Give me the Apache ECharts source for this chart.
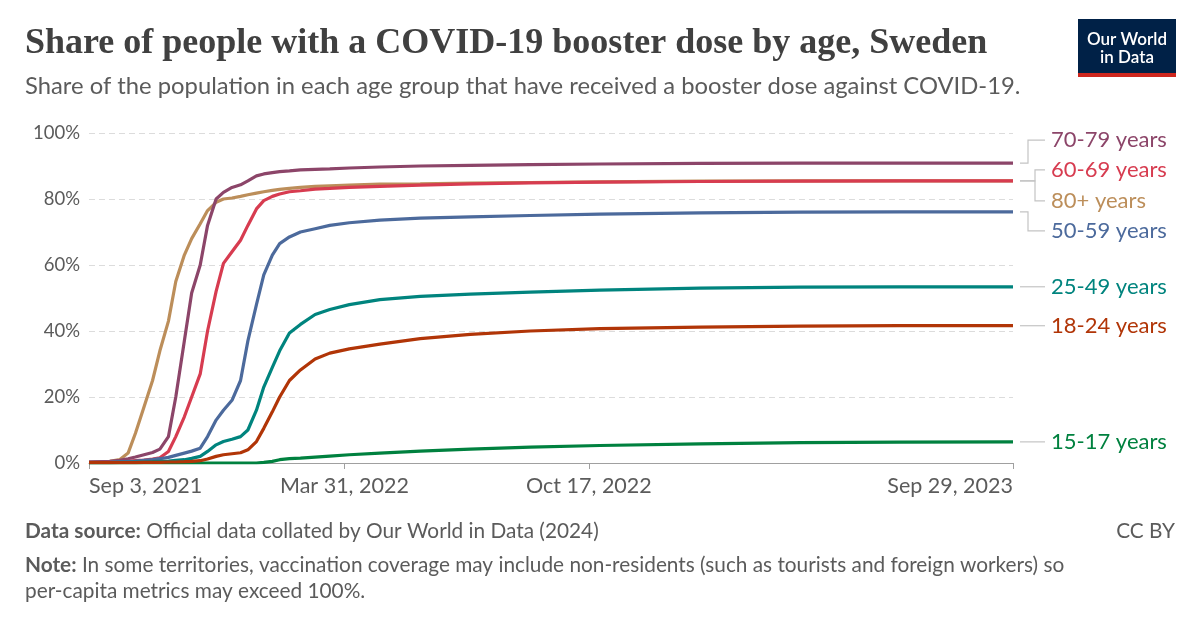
<!DOCTYPE html>
<html>
<head>
<meta charset="utf-8">
<script src="https://cdn.jsdelivr.net/npm/echarts@6/dist/echarts.min.js"></script>
<style>
html,body{margin:0;padding:0;background:#fff;}
#chart{width:1200px;height:627px;}
</style>
</head>
<body>
<div id="chart"></div>
<script>
// ---- Data ----
const dates = [
  '2021-09-03','2021-09-20','2021-09-28','2021-10-05','2021-10-11','2021-10-18','2021-10-25','2021-10-31',
  '2021-11-07','2021-11-13','2021-11-20','2021-11-26','2021-12-03','2021-12-09','2021-12-16','2021-12-22',
  '2021-12-29','2022-01-05','2022-01-11','2022-01-18','2022-01-24','2022-01-31','2022-02-06','2022-02-14',
  '2022-02-23','2022-03-07','2022-03-19','2022-04-04','2022-04-29','2022-06-01','2022-07-12','2022-08-30',
  '2022-10-26','2023-01-16','2023-04-08','2023-06-28','2023-09-29'
];
const age80plus = [0.3,0.5,1,3,9,17,25,34,43,55,63,68,72.5,76.5,79,80,80.3,80.8,81.3,81.8,82.2,82.6,82.9,83.2,83.5,83.8,84,84.2,84.5,84.6,84.8,85.0,85.2,85.4,85.5,85.5,85.5];
const age70_79  = [0.3,0.5,0.8,1.3,1.8,2.5,3.2,4.2,8,20,37,51.5,60,72,80,82,83.5,84.3,85.5,87,87.6,88,88.3,88.5,88.8,89,89.1,89.4,89.7,90,90.2,90.4,90.6,90.8,90.9,90.9,90.9];
const age60_69  = [0.2,0.3,0.4,0.5,0.7,0.9,1.2,1.6,3.5,8,14,20,27,40,52,60.5,64,67.5,72,77,79.5,80.8,81.5,82.2,82.5,83,83.2,83.5,83.8,84.2,84.6,84.9,85.1,85.3,85.4,85.5,85.5];
const age50_59  = [0.2,0.3,0.4,0.5,0.6,0.8,1,1.3,1.7,2.3,3,3.6,4.5,8,13,16,19,25,37,48,57,63,66.5,68.5,70,71,72,72.8,73.6,74.2,74.6,75,75.4,75.8,76,76.1,76.1];
const age25_49  = [0.1,0.1,0.2,0.2,0.3,0.3,0.4,0.5,0.6,0.8,1,1.4,2,3.5,5.5,6.5,7.2,8,10,16,23,29,34,39.4,42,45,46.5,48,49.5,50.5,51.2,51.8,52.4,53,53.3,53.4,53.4];
const age18_24  = [0.1,0.1,0.1,0.1,0.1,0.2,0.2,0.2,0.3,0.3,0.4,0.5,0.7,1.2,2,2.5,2.8,3.1,4,6.5,10.5,15.5,20,25,28.2,31.5,33.3,34.6,36,37.7,39,40,40.7,41.2,41.5,41.6,41.6];
const age15_17  = [0,0,0,0,0,0,0,0,0,0,0,0,0,0,0,0,0,0,0,0,0.2,0.5,1,1.3,1.5,1.8,2.1,2.5,3,3.6,4.2,4.8,5.3,5.8,6.2,6.3,6.4];
const xTickDates = ['2021-09-03','2022-03-31','2022-10-17','2023-09-29'];
const yTicks = [0,20,40,60,80,100];

const seriesDefs = [
  {name:'80+ years',   data:age80plus, color:'#BC8E5A', labelDy:20},
  {name:'70-79 years', data:age70_79,  color:'#8C4569', labelDy:-23},
  {name:'60-69 years', data:age60_69,  color:'#D73C50', labelDy:-11},
  {name:'50-59 years', data:age50_59,  color:'#4C6A9C', labelDy:19},
  {name:'25-49 years', data:age25_49,  color:'#00847E', labelDy:0},
  {name:'15-17 years', data:age15_17,  color:'#00813F', labelDy:0},
  {name:'18-24 years', data:age18_24,  color:'#B13507', labelDy:0}
];

const DAY = 86400000;
const t0 = Date.UTC(2021, 8, 3);
const dayOf = d => Math.round((new Date(d + 'T00:00:00Z').getTime() - t0) / DAY);
const MONTHS = ['Jan','Feb','Mar','Apr','May','Jun','Jul','Aug','Sep','Oct','Nov','Dec'];
const fmtDay = v => { const d = new Date(t0 + v * DAY); return MONTHS[d.getUTCMonth()] + ' ' + d.getUTCDate() + ', ' + d.getUTCFullYear(); };

const chart = echarts.init(document.getElementById('chart'), null, {renderer:'canvas'});
const FONT = 'Lato, "Noto Sans", sans-serif';
const xTicks = xTickDates.map(dayOf);

const option = {
  animation:false,
  backgroundColor:'#fff',
  grid:{left:89, right:187, top:133, bottom:164, containLabel:false},
  xAxis:{
    type:'value',
    min:dayOf(dates[0]), max:dayOf(dates[dates.length-1]),
    axisLine:{show:true, lineStyle:{color:'#a0a0a0', width:1}},
    axisTick:{show:true, customValues:xTicks, length:6, lineStyle:{color:'#a0a0a0'}},
    axisLabel:{customValues:xTicks, formatter:fmtDay, color:'#5b5b5b', fontSize:21.5, fontFamily:FONT, margin:12, alignMinLabel:'left', alignMaxLabel:'right', showMinLabel:true, showMaxLabel:true},
    splitLine:{show:false}
  },
  yAxis:{
    type:'value', min:yTicks[0], max:yTicks[yTicks.length-1], interval:20,
    axisLine:{show:false}, axisTick:{show:false},
    axisLabel:{formatter:'{value}%', color:'#5b5b5b', fontSize:18.5, fontFamily:FONT, margin:9},
    splitLine:{show:true, lineStyle:{color:'#dcdcdc', type:[6,4], width:1}}
  },
  series: seriesDefs.map(s => ({
    name:s.name, type:'line', showSymbol:false, symbol:'none',
    lineStyle:{color:s.color, width:3.2}, itemStyle:{color:s.color},
    data: dates.map((d,i) => [dayOf(d), s.data[i]])
  }))
};
chart.setOption(option);

// ---- Labels, connectors, titles ----
const g = [];
seriesDefs.forEach(s => {
  const last = dates.length - 1;
  const p = chart.convertToPixel({gridIndex:0}, [dayOf(dates[last]), s.data[last]]);
  const x0 = p[0] + 7, y0 = p[1];
  const ly = y0 + s.labelDy;
  let pts;
  if (s.labelDy === 0) pts = [[x0,y0],[1045,y0]];
  else if (Math.abs(s.labelDy) > 15 && s.name !== '80+ years') pts = [[x0,y0],[1028,y0],[1028,ly],[1045,ly]];
  else pts = [[x0,y0],[1035,y0],[1035,ly],[1045,ly]];
  g.push({type:'polyline', shape:{points:pts}, style:{stroke:'#c4c4c4', lineWidth:1.2, fill:null}, silent:true});
  g.push({type:'text', x:1051, y:ly, style:{text:s.name, fill:s.color, font:'22px '+FONT, verticalAlign:'middle', textAlign:'left'}});
});
// Title & subtitle
g.push({type:'text', x:25, y:44, style:{text:'Share of people with a COVID-19 booster dose by age, Sweden', fill:'#404040', font:'bold 36px "Liberation Serif", "DejaVu Serif", serif', verticalAlign:'middle'}});
g.push({type:'text', x:25, y:86, style:{text:'Share of the population in each age group that have received a booster dose against COVID-19.', fill:'#5b5b5b', font:'23.8px '+FONT, verticalAlign:'middle'}});
// Logo
g.push({type:'rect', shape:{x:1078, y:19, width:98, height:58}, style:{fill:'#002147'}});
g.push({type:'rect', shape:{x:1078, y:73, width:98, height:4}, style:{fill:'#CE261E'}});
g.push({type:'text', x:1127, y:40, style:{text:'Our World', fill:'#fff', font:'600 17px '+FONT, textAlign:'center', verticalAlign:'middle'}});
g.push({type:'text', x:1127, y:58, style:{text:'in Data', fill:'#fff', font:'600 17px '+FONT, textAlign:'center', verticalAlign:'middle'}});
// Footer
const FS = 20.8;
const rb = {b:{fontWeight:'bold', fill:'#5b5b5b', fontSize:FS, fontFamily:FONT}};
g.push({type:'text', x:25, y:531, style:{text:'{b|Data source:} Official data collated by Our World in Data (2024)', rich:rb, fill:'#5b5b5b', font:FS+'px '+FONT, verticalAlign:'middle'}});
g.push({type:'text', x:1175, y:531, style:{text:'CC BY', fill:'#5b5b5b', font:FS+'px '+FONT, textAlign:'right', verticalAlign:'middle'}});
g.push({type:'text', x:25, y:565, style:{text:'{b|Note:} In some territories, vaccination coverage may include non-residents (such as tourists and foreign workers) so', rich:rb, fill:'#5b5b5b', font:FS+'px '+FONT, verticalAlign:'middle'}});
g.push({type:'text', x:25, y:591, style:{text:'per-capita metrics may exceed 100%.', fill:'#5b5b5b', font:FS+'px '+FONT, verticalAlign:'middle'}});

chart.setOption({graphic:g});
</script>
</body>
</html>
